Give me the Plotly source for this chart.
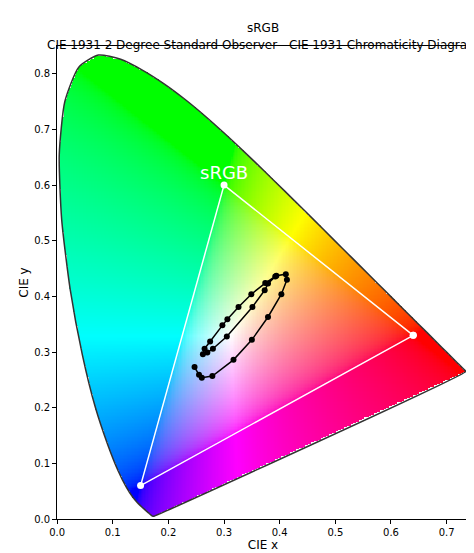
import numpy as np
import plotly.graph_objects as go

# CIE 1931 2 degree spectral locus (x, y)
locus_x = [0.1741, 0.1733, 0.1714, 0.1689, 0.1644, 0.1566, 0.1440, 0.1355, 0.1241, 0.1096,
           0.0913, 0.0687, 0.0454, 0.0235, 0.0082, 0.0039, 0.0139, 0.0389, 0.0743, 0.1142,
           0.1547, 0.1929, 0.2296, 0.2658, 0.3016, 0.3373, 0.3731, 0.4087, 0.4441, 0.4788,
           0.5125, 0.5448, 0.5752, 0.6029, 0.6270, 0.6482, 0.6658, 0.6915, 0.7079, 0.7190,
           0.7260, 0.7334, 0.7347]
locus_y = [0.0050, 0.0048, 0.0051, 0.0069, 0.0109, 0.0177, 0.0297, 0.0399, 0.0578, 0.0868,
           0.1327, 0.2007, 0.2950, 0.4127, 0.5384, 0.6548, 0.7502, 0.8120, 0.8338, 0.8262,
           0.8059, 0.7816, 0.7543, 0.7243, 0.6923, 0.6589, 0.6245, 0.5896, 0.5547, 0.5202,
           0.4866, 0.4544, 0.4242, 0.3965, 0.3725, 0.3514, 0.3340, 0.3083, 0.2920, 0.2809,
           0.2740, 0.2666, 0.2653]

# sRGB primaries
gamut_x = [0.64, 0.30, 0.15, 0.64]
gamut_y = [0.33, 0.60, 0.06, 0.33]

# sample points
pts_x = [0.247, 0.255, 0.260, 0.279, 0.317, 0.350, 0.379, 0.403, 0.413, 0.411, 0.394, 0.374,
         0.349, 0.326, 0.306, 0.297, 0.275, 0.265, 0.262, 0.270, 0.280, 0.305, 0.351, 0.373,
         0.379, 0.392]
pts_y = [0.273, 0.259, 0.254, 0.257, 0.286, 0.322, 0.363, 0.404, 0.430, 0.440, 0.437, 0.424,
         0.404, 0.381, 0.359, 0.348, 0.319, 0.306, 0.296, 0.299, 0.306, 0.328, 0.381, 0.411,
         0.423, 0.436]

# chromaticity colours image
nx, ny = 300, 340
dx, dy = 0.74 / nx, 0.85 / ny
gx, gy = np.meshgrid((np.arange(nx) + 0.5) * dx, (np.arange(ny) + 0.5) * dy)

px = np.array(locus_x)
py = np.array(locus_y)
inside = np.zeros(gx.shape, dtype=bool)
j = len(px) - 1
for i in range(len(px)):
    cond = ((py[i] > gy) != (py[j] > gy)) & \
           (gx < (px[j] - px[i]) * (gy - py[i]) / (py[j] - py[i] + 1e-12) + px[i])
    inside ^= cond
    j = i

gys = np.maximum(gy, 1e-6)
X = gx / gys
Y = np.ones_like(gx)
Z = (1 - gx - gy) / gys
M = np.array([[3.2406, -1.5372, -0.4986],
              [-0.9689, 1.8758, 0.0415],
              [0.0557, -0.2040, 1.0570]])
rgb = np.stack([X, Y, Z], -1) @ M.T
rgb = np.clip(rgb, 0, None)
rgb = rgb / np.maximum(rgb.max(-1, keepdims=True), 1e-9)
rgb = np.where(rgb <= 0.0031308, 12.92 * rgb, 1.055 * rgb ** (1 / 2.4) - 0.055)
img = np.zeros((ny, nx, 4), dtype=np.uint8)
img[..., :3] = np.clip(rgb * 255, 0, 255).astype(np.uint8)
img[..., 3] = np.where(inside, 255, 0)

fig = go.Figure()
fig.add_trace(go.Image(z=img, colormodel="rgba", x0=dx / 2, dx=dx, y0=dy / 2, dy=dy,
                       hoverinfo="skip"))
fig.add_trace(go.Scatter(x=locus_x + locus_x[:1], y=locus_y + locus_y[:1], mode="lines",
                         line=dict(color="#333333", width=1.5, shape="spline", smoothing=0.6),
                         showlegend=False))
fig.add_trace(go.Scatter(x=gamut_x, y=gamut_y, mode="lines+markers",
                         line=dict(color="white", width=1.5),
                         marker=dict(color="white", size=7), showlegend=False))
fig.add_trace(go.Scatter(x=pts_x, y=pts_y, mode="lines+markers",
                         line=dict(color="black", width=1.5),
                         marker=dict(color="black", size=6), showlegend=False))
fig.add_annotation(x=gamut_x[1], y=gamut_y[1], text="sRGB", showarrow=False,
                   yshift=13, font=dict(color="white", size=18))
fig.add_annotation(x=0.5, y=1, xref="paper", yref="paper", yshift=27, showarrow=False,
                   text="sRGB", font=dict(size=12))
fig.add_annotation(x=0.5, y=1, xref="paper", yref="paper", yshift=10, showarrow=False,
                   text="CIE 1931 2 Degree Standard Observer - CIE 1931 Chromaticity Diagram",
                   font=dict(size=12))

axis = dict(showgrid=False, zeroline=False, showline=True, mirror=True, linecolor="black",
            ticks="outside", tickcolor="black", ticklen=4, tickfont=dict(size=10, color="black"))
fig.update_layout(
    width=474, height=553,
    paper_bgcolor="white", plot_bgcolor="white",
    margin=dict(l=45, r=9, t=38, b=42),
    font=dict(family="DejaVu Sans", color="black"),
    xaxis=dict(axis, range=[0, 0.74], dtick=0.1, tickformat=".1f",
               title=dict(text="CIE x", font=dict(size=12), standoff=2)),
    yaxis=dict(axis, range=[0, 0.85], dtick=0.1, tickformat=".1f", autorange=False,
               title=dict(text="CIE y", font=dict(size=12), standoff=2)),
)
fig.write_html("out.html")
